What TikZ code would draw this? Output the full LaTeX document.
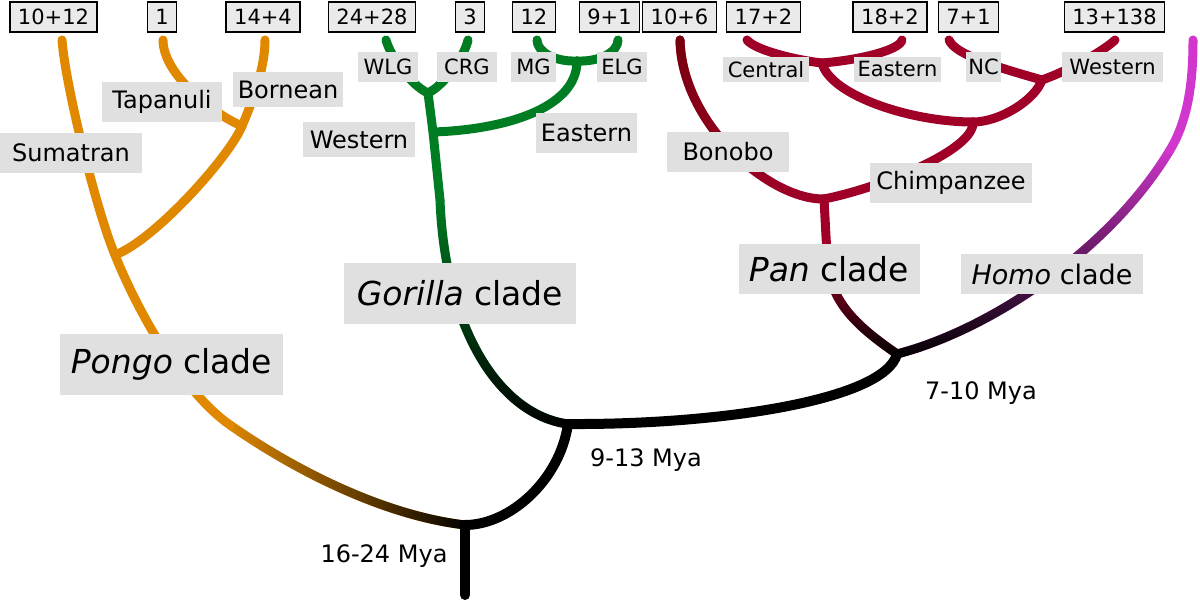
\documentclass[tikz,border=0pt]{standalone}
\usepackage{fontspec}
\setmainfont{DejaVu Sans}
\usetikzlibrary{fadings}
\definecolor{pongoOrange}{RGB}{223,136,0}
\definecolor{gorillaGreen}{RGB}{0,125,35}
\definecolor{chimpRed}{RGB}{160,0,40}
\definecolor{bonoboRed}{RGB}{118,0,12}
\definecolor{homoPink}{RGB}{210,55,205}
\definecolor{lblGrey}{RGB}{224,224,224}
\definecolor{boxGrey}{RGB}{234,234,234}
\tikzfading[name=fadeup, top color=transparent!100, bottom color=transparent!0]
\tikzfading[name=faderight, left color=transparent!100, right color=transparent!0]
\tikzfading[name=fadedown, top color=transparent!0, bottom color=transparent!100]

\begin{document}
\begin{tikzpicture}[x=0.5pt, y=-0.5pt,
    twig/.style={line width=4.5pt, line cap=round, line join=round, draw=#1},
    stem/.style={line width=5pt, line cap=round, line join=round, draw=black},
    countbox/.style={draw, line width=0.7pt, fill=boxGrey, font=\fontsize{10.5}{12}\selectfont, inner xsep=4pt, inner ysep=1pt, minimum height=15pt},
    taglbl/.style={fill=lblGrey, font=\fontsize{10.5}{12}\selectfont, inner sep=1pt, minimum height=15pt, minimum width=#1},
    poplbl/.style={fill=lblGrey, font=\fontsize{12}{14}\selectfont, inner sep=1pt, minimum height=20pt, minimum width=#1},
    cladelbl/.style={fill=lblGrey, font=\fontsize{16.5}{19}\selectfont, inner sep=1pt, minimum height=30.5pt, minimum width=#1},
    agelbl/.style={font=\fontsize{12}{14}\selectfont, inner sep=0pt}
]
\useasboundingbox (0,0) rectangle (1200,603);

% Tips
\coordinate (tSum) at (62,40);
\coordinate (tTap) at (163,40);
\coordinate (tBor) at (265,40);
\coordinate (tWLG) at (386,40);
\coordinate (tCRG) at (468,40);
\coordinate (tMG) at (537,40);
\coordinate (tELG) at (618,40);
\coordinate (tBon) at (680,40);
\coordinate (tCen) at (747,40);
\coordinate (tEas) at (902,40);
\coordinate (tNC) at (949,40);
\coordinate (tWes) at (1115,40);
\coordinate (tHomo) at (1193,40);

% Splits
\coordinate (base) at (465,595);
\coordinate (root) at (465,525);
\coordinate (pg1) at (230,425);
\coordinate (jPongo) at (115,255);
\coordinate (jBT) at (242,126);
\coordinate (jGP) at (568,424);
\coordinate (g1) at (440,200);
\coordinate (jGor) at (433,132);
\coordinate (jWG) at (428,93);
\coordinate (jEG) at (577,61);
\coordinate (jPH) at (897,354);
\coordinate (pM) at (827,255);
\coordinate (jPan) at (824,199);
\coordinate (jChimp) at (973,122);
\coordinate (jCE) at (822,63);
\coordinate (jNW) at (1042,80);
\coordinate (hM) at (1170,150);

% Pongo
\draw[twig=pongoOrange] (root) .. controls +(-85,-10) and +(60,42) .. (pg1);
\draw[twig=black, path fading=faderight] (root) .. controls +(-85,-10) and +(60,42) .. (pg1);
\draw[twig=pongoOrange] (pg1) .. controls +(-50,-35) and +(20,50) .. (jPongo)
    .. controls +(-17,-40) and +(4,50) .. (tSum);
\draw[twig=pongoOrange] (jPongo) .. controls +(40,-15) and +(-12,30) .. (jBT);
\draw[twig=pongoOrange] (jBT) .. controls +(9,-21) and +(0,30) .. (tBor);
\draw[twig=pongoOrange] (jBT) .. controls +(-27,-11) and +(0,35) .. (tTap);

% Gorilla
\draw[twig=gorillaGreen] (jGP) .. controls +(-68,-9) and +(5,130) .. (g1);
\draw[twig=black, path fading=fadeup] (jGP) .. controls +(-68,-9) and +(5,130) .. (g1);
\draw[twig=gorillaGreen] (g1) -- (jGor) -- (jWG);
\draw[twig=gorillaGreen] (jGor) .. controls +(67,-2) and +(0,49) .. (jEG);
\draw[twig=gorillaGreen] (jWG) .. controls +(-18,-8) and +(4,15) .. (tWLG);
\draw[twig=gorillaGreen] (jWG) .. controls +(17,-8) and +(-3,15) .. (tCRG);
\draw[twig=gorillaGreen] (jEG) .. controls +(-22,1) and +(0,12) .. (tMG);
\draw[twig=gorillaGreen] (jEG) .. controls +(23,1) and +(0,12) .. (tELG);

% Pan
\draw[twig=chimpRed] (jPH) .. controls +(-42,-29) and +(1,45) .. (pM);
\draw[twig=black, path fading=fadeup] (jPH) .. controls +(-42,-29) and +(1,45) .. (pM);
\draw[twig=chimpRed] (pM) -- (jPan);
\draw[twig=chimpRed] (jPan) .. controls +(-54,1) and +(2,85) .. (tBon);
\draw[twig=bonoboRed, path fading=fadedown] (jPan) .. controls +(-54,1) and +(2,85) .. (tBon);
\draw[twig=chimpRed] (jPan) .. controls +(56,-11) and +(2,28) .. (jChimp);
\draw[twig=chimpRed] (jChimp) .. controls +(-63,0) and +(8,32) .. (jCE);
\draw[twig=chimpRed] (jCE) .. controls +(-27,-3) and +(8,10) .. (tCen);
\draw[twig=chimpRed] (jCE) .. controls +(38,-3) and +(-2,10) .. (tEas);
\draw[twig=chimpRed] (jChimp) .. controls +(27,0) and +(-7,20) .. (jNW);
\draw[twig=chimpRed] (jNW) .. controls +(-42,-12) and +(6,15) .. (tNC);
\draw[twig=chimpRed] (jNW) .. controls +(28,-10) and +(-10,10) .. (tWes);

% Homo
\draw[twig=homoPink] (jPH) .. controls +(93,-24) and +(-60,100) .. (hM);
\draw[twig=black, path fading=fadeup] (jPH) .. controls +(93,-24) and +(-60,100) .. (hM);
\draw[twig=homoPink] (hM) .. controls +(20,-33) and +(0,35) .. (tHomo);

% Backbone
\draw[stem] (base) -- (root);
\draw[stem] (root) .. controls +(45,0) and +(-8,56) .. (jGP);
\draw[stem] (jGP) .. controls +(152,1) and +(-12,46) .. (jPH);

% Labels
\node[poplbl=71pt] (lSum) at (71,153) {Sumatran};
\node[poplbl=60pt] (lTap) at (162,102) {Tapanuli};
\node[poplbl=55pt, minimum height=17.5pt] (lBor) at (288,89.5) {Bornean};
\node[poplbl=56pt, minimum height=17.5pt] (lWesG) at (359,139.5) {Western};
\node[poplbl=50.5pt] (lEasG) at (586.5,133) {Eastern};
\node[poplbl=61pt] (lBon) at (728,152) {Bonobo};
\node[poplbl=81pt] (lChimp) at (951,183) {Chimpanzee};
\node[taglbl=30pt] (lWLG) at (388,67) {WLG};
\node[taglbl=30pt] (lCRG) at (467,67) {CRG};
\node[taglbl=22.5pt] (lMG) at (533.5,67) {MG};
\node[taglbl=25pt] (lELG) at (622,67) {ELG};
\node[taglbl=43pt, minimum height=12.5pt] (lCen) at (766,69.5) {Central};
\node[taglbl=43.5pt, minimum height=12.5pt] (lEasC) at (897.5,69.5) {Eastern};
\node[taglbl=17.5pt] (lNC) at (983.5,67) {NC};
\node[taglbl=50.5pt] (lWesC) at (1112.5,67) {Western};

% Clades
\node[cladelbl=111.5pt] (cPongo) at (171.5,364.5) {\textit{Pongo} clade};
\node[cladelbl=116pt] (cGorilla) at (460,293.5) {\textit{Gorilla} clade};
\node[cladelbl=90.5pt, minimum height=25pt] (cPan) at (829,269) {\textit{Pan} clade};
\node[cladelbl=91pt, minimum height=20pt, font=\fontsize{13.5}{16}\selectfont] (cHomo) at (1052,274) {\textit{Homo} clade};

% Ages
\node[agelbl] (aRoot) at (384,556) {16-24 Mya};
\node[agelbl] (aGP) at (646,460) {9-13 Mya};
\node[agelbl] (aPH) at (981,393) {7-10 Mya};

% Counts
\foreach \nm/\x/\n in {sum/53.5/10+12, tap/162/1, bor/263/14+4, wlg/372/24+28, crg/470/3, mg/534/12, elg/609.5/9+1, bon/679.5/10+6, cen/763.5/17+2, eas/890/18+2, nc/968.5/7+1, wes/1114.5/13+138}
    \node[countbox] (n\nm) at (\x,17) {\n};
\end{tikzpicture}
\end{document}
